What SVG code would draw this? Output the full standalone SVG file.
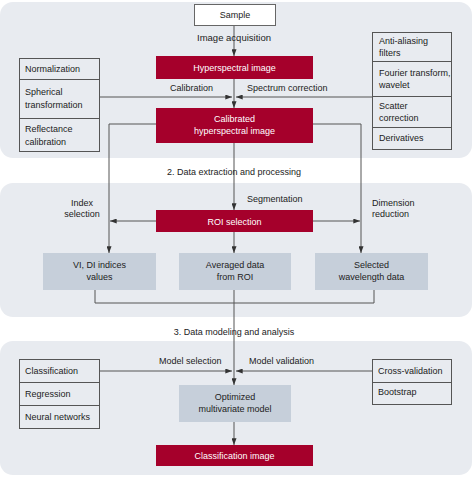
<svg xmlns="http://www.w3.org/2000/svg" width="474" height="477" viewBox="0 0 474 477">
<defs>
<marker id="ah" viewBox="0 0 8 6" refX="8" refY="3" markerWidth="7" markerHeight="5" markerUnits="userSpaceOnUse" orient="auto">
<path d="M0,0 L8,3 L0,6 z" fill="#333"/>
</marker>
</defs>
<style>
.panel{fill:#e8ebf0}
.red{fill:#a5002b}
.gray{fill:#c6cfda}
.list{fill:none;stroke:#555;stroke-width:1}
.white{fill:#fff;stroke:#666;stroke-width:1}
.ln{fill:none;stroke:#555;stroke-width:1}
.arr{fill:none;stroke:#555;stroke-width:1;marker-end:url(#ah)}
text{font-family:"Liberation Sans",Arial,sans-serif;font-size:9px;fill:#222}
.wt{fill:#fff;text-anchor:middle}
.c{text-anchor:middle}
</style>
<g id="panels">
<rect class="panel" x="0" y="2" width="472" height="156" rx="13"/>
<rect class="panel" x="0" y="183" width="472" height="134" rx="13"/>
<rect class="panel" x="0" y="341" width="472" height="134" rx="13"/>
</g>
<g id="connectors">
<line class="arr" x1="234" y1="25" x2="234" y2="56"/>
<line class="arr" x1="234" y1="79" x2="234" y2="108"/>
<line class="arr" x1="99" y1="97" x2="232" y2="97"/>
<line class="arr" x1="372" y1="97" x2="236" y2="97"/>
<line class="arr" x1="234" y1="143" x2="234" y2="210"/>
<polyline class="arr" points="156,124 109,124 109,253"/>
<polyline class="arr" points="313,124 361,124 361,253"/>
<line class="arr" x1="156" y1="221" x2="110" y2="221"/>
<line class="arr" x1="313" y1="221" x2="360" y2="221"/>
<line class="arr" x1="234" y1="232" x2="234" y2="253"/>
<polyline class="ln" points="95,290 95,303 374,303 374,290"/>
<line class="arr" x1="234" y1="290" x2="234" y2="385"/>
<line class="arr" x1="99" y1="371" x2="232" y2="371"/>
<line class="arr" x1="372" y1="371" x2="236" y2="371"/>
<line class="arr" x1="234" y1="422" x2="234" y2="445"/>
</g>
<g id="labels">
<text class="c" x="234" y="41" style="font-size:9.5px">Image acquisition</text>
<text x="170" y="91">Calibration</text>
<text x="247" y="91">Spectrum correction</text>
<text class="c" x="234" y="175">2. Data extraction and processing</text>
<text class="c" x="82" y="206">Index</text>
<text class="c" x="82" y="217">selection</text>
<text x="247" y="202">Segmentation</text>
<text x="372" y="206">Dimension</text>
<text x="372" y="217">reduction</text>
<text class="c" x="234" y="335">3. Data modeling and analysis</text>
<text x="159" y="364">Model selection</text>
<text x="249" y="364">Model validation</text>
</g>
<g id="sample">
<rect class="white" x="194.5" y="4.5" width="81" height="21"/>
<text class="c" x="235" y="18">Sample</text>
</g>
<g id="hyperspectral">
<rect class="red" x="156" y="56" width="157" height="23"/>
<text class="wt" x="234.5" y="71">Hyperspectral image</text>
</g>
<g id="calibrated">
<rect class="red" x="156" y="108" width="157" height="35"/>
<text class="wt" x="234.5" y="122">Calibrated</text>
<text class="wt" x="234.5" y="134">hyperspectral image</text>
</g>
<g id="preproc-left">
<rect class="list" x="19.5" y="58.5" width="80" height="93"/>
<line class="ln" x1="19.5" y1="79.5" x2="99.5" y2="79.5"/>
<line class="ln" x1="19.5" y1="118.5" x2="99.5" y2="118.5"/>
<text x="25" y="72">Normalization</text>
<text x="25" y="95">Spherical</text>
<text x="25" y="108">transformation</text>
<text x="25" y="132">Reflectance</text>
<text x="25" y="145">calibration</text>
</g>
<g id="preproc-right">
<rect class="list" x="372.5" y="32.5" width="79" height="117"/>
<line class="ln" x1="372.5" y1="61.5" x2="451.5" y2="61.5"/>
<line class="ln" x1="372.5" y1="96.5" x2="451.5" y2="96.5"/>
<line class="ln" x1="372.5" y1="127.5" x2="451.5" y2="127.5"/>
<text x="379" y="44">Anti-aliasing</text>
<text x="379" y="56">filters</text>
<text x="379" y="76">Fourier transform,</text>
<text x="379" y="88">wavelet</text>
<text x="379" y="109">Scatter</text>
<text x="379" y="121">correction</text>
<text x="379" y="141">Derivatives</text>
</g>
<g id="roi">
<rect class="red" x="156" y="210" width="157" height="22"/>
<text class="wt" x="234.5" y="224.5">ROI selection</text>
</g>
<g id="vi">
<rect class="gray" x="43" y="253" width="113" height="37"/>
<text class="c" x="99.5" y="268">VI, DI indices</text>
<text class="c" x="99.5" y="280">values</text>
</g>
<g id="averaged">
<rect class="gray" x="179" y="253" width="112" height="37"/>
<text class="c" x="235" y="268">Averaged data</text>
<text class="c" x="235" y="280">from ROI</text>
</g>
<g id="selected">
<rect class="gray" x="315" y="253" width="113" height="37"/>
<text class="c" x="371.5" y="268">Selected</text>
<text class="c" x="371.5" y="280">wavelength data</text>
</g>
<g id="models">
<rect class="list" x="19.5" y="359.5" width="80" height="69"/>
<line class="ln" x1="19.5" y1="382.5" x2="99.5" y2="382.5"/>
<line class="ln" x1="19.5" y1="405.5" x2="99.5" y2="405.5"/>
<text x="25" y="374">Classification</text>
<text x="25" y="397">Regression</text>
<text x="25" y="420">Neural networks</text>
</g>
<g id="validation">
<rect class="list" x="372.5" y="359.5" width="79" height="45"/>
<line class="ln" x1="372.5" y1="382.5" x2="451.5" y2="382.5"/>
<text x="378" y="374">Cross-validation</text>
<text x="378" y="395">Bootstrap</text>
</g>
<g id="optimized">
<rect class="gray" x="179" y="385" width="112" height="37"/>
<text class="c" x="235" y="400">Optimized</text>
<text class="c" x="235" y="412">multivariate model</text>
</g>
<g id="classification-image">
<rect class="red" x="156" y="445" width="157" height="21"/>
<text class="wt" x="234.5" y="459">Classification image</text>
</g>
</svg>
